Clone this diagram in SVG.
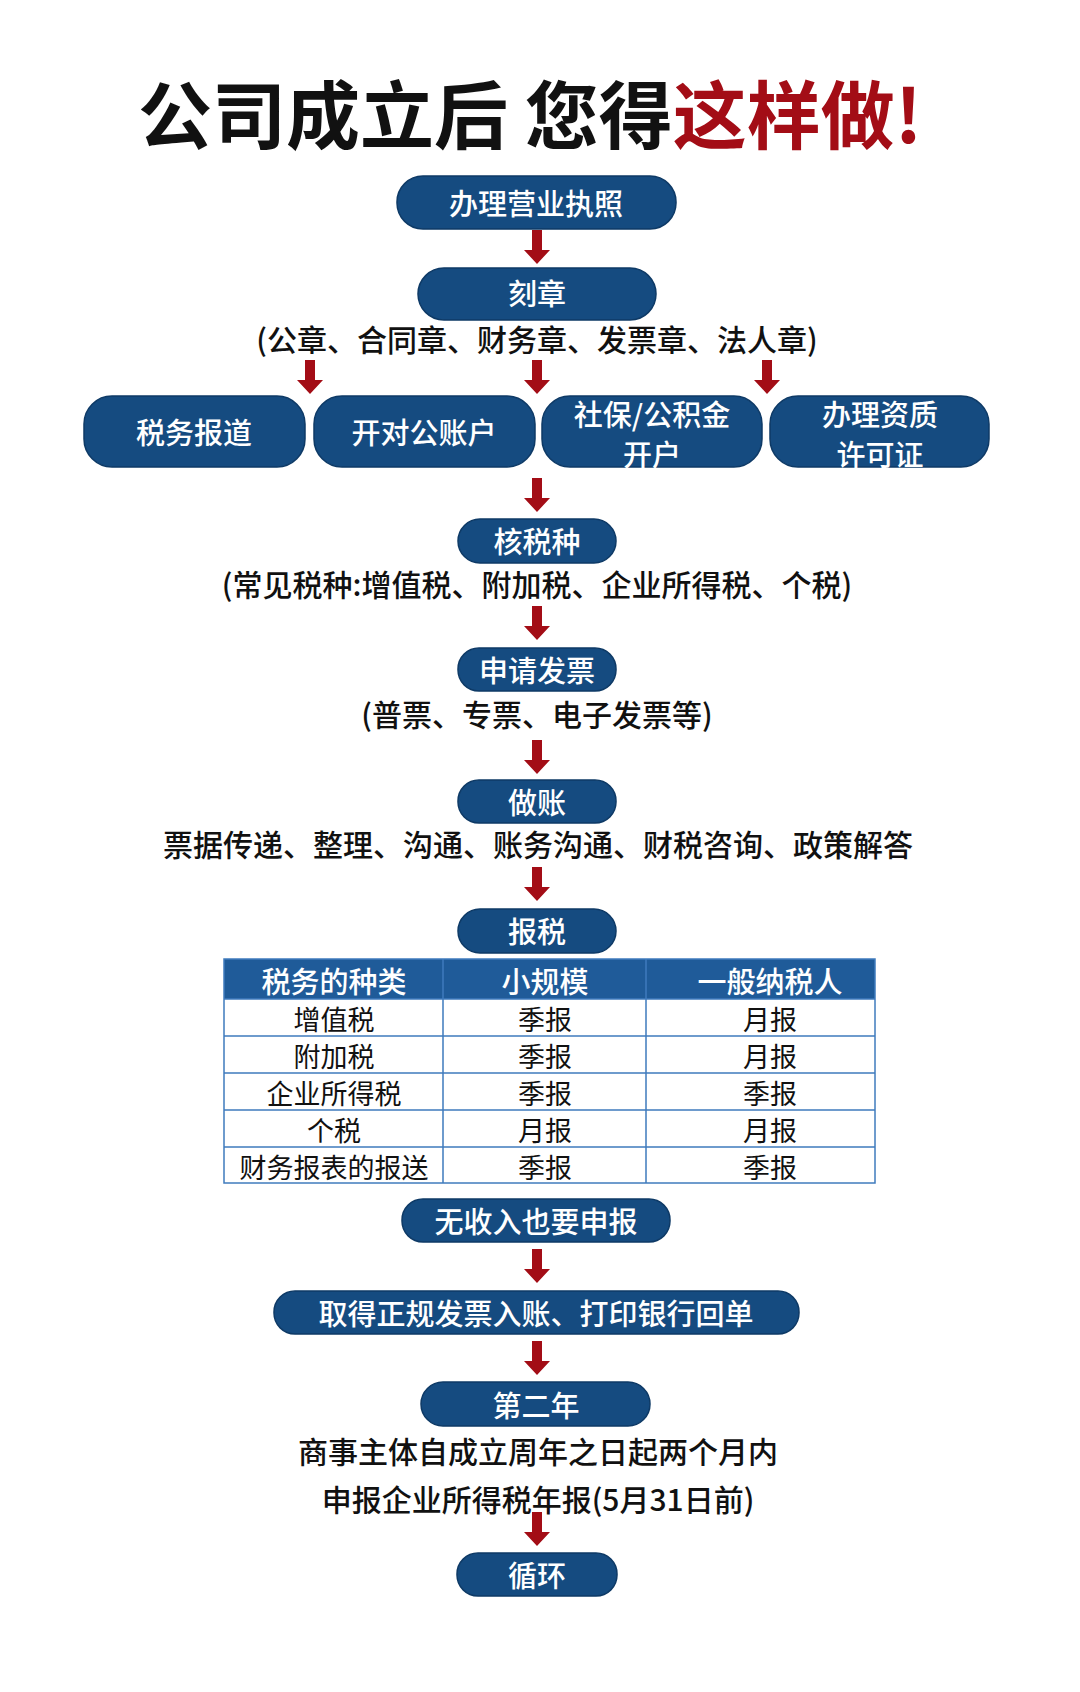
<svg xmlns="http://www.w3.org/2000/svg" width="1080" height="1692" viewBox="0 0 1080 1692">
<style>
.n{fill:#154b80;stroke:#0e3a66;stroke-width:1.5}
.t{font-family:"Noto Sans CJK SC",sans-serif;font-weight:500;fill:#fff;text-anchor:middle;dominant-baseline:central;font-size:29px}
.b{font-family:"Noto Sans CJK SC",sans-serif;font-weight:500;fill:#111;text-anchor:middle;dominant-baseline:central;font-size:30px}
.c{font-family:"Noto Sans CJK SC",sans-serif;fill:#111;text-anchor:middle;dominant-baseline:central;font-size:27px}
.a{fill:#a30d16}
.g{stroke:#3f7bbd;stroke-width:1.5;fill:none}
</style>
<defs><path id="ar" class="a" d="M-5,0 H5 V20 H13 L0,34 L-13,20 H-5 Z"/></defs>
<rect width="1080" height="1692" fill="#fff"/>
<text x="530" y="110" font-family="Noto Sans CJK SC,sans-serif" font-weight="bold" font-size="74" text-anchor="middle" dominant-baseline="central" fill="#111">公司成立后 您得<tspan fill="#a30d16">这样做!</tspan></text>
<g id="connectors">
<use href="#ar" x="537" y="230"/>
<use href="#ar" x="310" y="360"/><use href="#ar" x="537" y="360"/><use href="#ar" x="767" y="360"/>
<use href="#ar" x="537" y="478"/><use href="#ar" x="537" y="606"/><use href="#ar" x="537" y="740"/>
<use href="#ar" x="537" y="867"/><use href="#ar" x="537" y="1249"/><use href="#ar" x="537" y="1341"/>
<use href="#ar" x="537" y="1512"/>
</g>
<g id="n1"><rect class="n" x="397" y="176" width="279" height="53" rx="26"/><text class="t" x="536" y="202">办理营业执照</text></g>
<g id="n2"><rect class="n" x="418" y="268" width="238" height="52" rx="26"/><text class="t" x="537" y="292">刻章</text></g>
<text class="b" x="537" y="338">(公章、合同章、财务章、发票章、法人章)</text>
<g id="n3"><rect class="n" x="84" y="396" width="221" height="71" rx="28"/><text class="t" x="194" y="431">税务报道</text></g>
<g id="n4"><rect class="n" x="314" y="396" width="221" height="71" rx="28"/><text class="t" x="424" y="431">开对公账户</text></g>
<g id="n5"><rect class="n" x="542" y="396" width="220" height="71" rx="28"/><text class="t" x="652" y="413" font-size="27">社保/公积金</text><text class="t" x="652" y="453" font-size="27">开户</text></g>
<g id="n6"><rect class="n" x="770" y="396" width="219" height="71" rx="28"/><text class="t" x="880" y="413" font-size="27">办理资质</text><text class="t" x="880" y="453" font-size="27">许可证</text></g>
<g id="n7"><rect class="n" x="458" y="519" width="158" height="44" rx="22"/><text class="t" x="537" y="540">核税种</text></g>
<text class="b" x="537" y="583">(常见税种:增值税、附加税、企业所得税、个税)</text>
<g id="n8"><rect class="n" x="458" y="648" width="158" height="43" rx="21"/><text class="t" x="537" y="669">申请发票</text></g>
<text class="b" x="537" y="713">(普票、专票、电子发票等)</text>
<g id="n9"><rect class="n" x="458" y="780" width="158" height="43" rx="21"/><text class="t" x="537" y="801">做账</text></g>
<text class="b" x="538" y="843">票据传递、整理、沟通、账务沟通、财税咨询、政策解答</text>
<g id="n10"><rect class="n" x="458" y="909" width="158" height="44" rx="22"/><text class="t" x="537" y="930">报税</text></g>
<g id="table">
<rect x="224" y="959" width="651" height="40" fill="#1f5b99"/>
<rect class="g" x="224" y="959" width="651" height="224"/>
<path class="g" d="M443,959V1183M646,959V1183M224,999H875M224,1036H875M224,1073H875M224,1110H875M224,1147H875"/>
<text class="t" x="334" y="980" font-size="28">税务的种类</text><text class="t" x="545" y="980" font-size="28">小规模</text><text class="t" x="770" y="980" font-size="28">一般纳税人</text>
<text class="c" x="334" y="1018">增值税</text><text class="c" x="545" y="1018">季报</text><text class="c" x="770" y="1018">月报</text>
<text class="c" x="334" y="1055">附加税</text><text class="c" x="545" y="1055">季报</text><text class="c" x="770" y="1055">月报</text>
<text class="c" x="334" y="1092">企业所得税</text><text class="c" x="545" y="1092">季报</text><text class="c" x="770" y="1092">季报</text>
<text class="c" x="334" y="1129">个税</text><text class="c" x="545" y="1129">月报</text><text class="c" x="770" y="1129">月报</text>
<text class="c" x="334" y="1166" font-size="25">财务报表的报送</text><text class="c" x="545" y="1166">季报</text><text class="c" x="770" y="1166">季报</text>
</g>
<g id="n11"><rect class="n" x="402" y="1199" width="268" height="43" rx="21"/><text class="t" x="536" y="1220">无收入也要申报</text></g>
<g id="n12"><rect class="n" x="274" y="1291" width="525" height="43" rx="21"/><text class="t" x="536" y="1312">取得正规发票入账、打印银行回单</text></g>
<g id="n13"><rect class="n" x="421" y="1382" width="229" height="44" rx="22"/><text class="t" x="536" y="1404">第二年</text></g>
<text class="b" x="538" y="1450">商事主体自成立周年之日起两个月内</text>
<text class="b" x="538" y="1498">申报企业所得税年报(5月31日前)</text>
<g id="n14"><rect class="n" x="457" y="1553" width="160" height="43" rx="21"/><text class="t" x="537" y="1574">循环</text></g>
</svg>
